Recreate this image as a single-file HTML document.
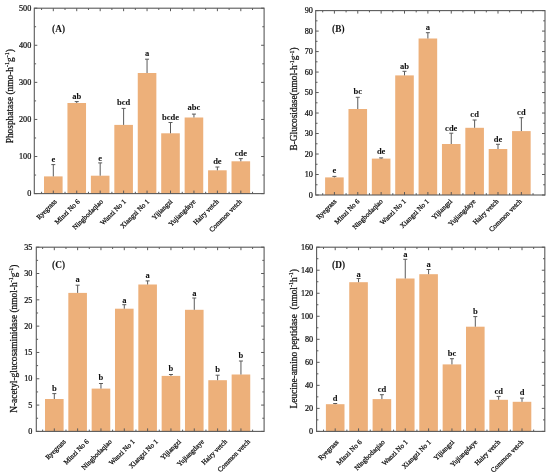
<!DOCTYPE html>
<html><head><meta charset="utf-8"><style>
html,body{margin:0;padding:0;background:#fff;}
svg{display:block;filter:blur(0.55px);}
text{font-family:"Liberation Serif", serif;fill:#111;stroke:#111;stroke-width:0.25px;}
text[font-weight=bold]{stroke-width:0.05px;}
</style></head><body>
<svg width="550" height="475" viewBox="0 0 550 475">
<rect width="550" height="475" fill="#fff"/>
<g><rect x="44" y="176.4" width="18.6" height="17.2" fill="#EDB07A"/><rect x="67.44" y="103" width="18.6" height="90.6" fill="#EDB07A"/><rect x="90.88" y="175.7" width="18.6" height="17.9" fill="#EDB07A"/><rect x="114.32" y="124.9" width="18.6" height="68.7" fill="#EDB07A"/><rect x="137.76" y="73" width="18.6" height="120.6" fill="#EDB07A"/><rect x="161.2" y="133.3" width="18.6" height="60.3" fill="#EDB07A"/><rect x="184.64" y="117.5" width="18.6" height="76.1" fill="#EDB07A"/><rect x="208.08" y="170.3" width="18.6" height="23.3" fill="#EDB07A"/><rect x="231.52" y="161.3" width="18.6" height="32.3" fill="#EDB07A"/><path d="M53.3 176.4V164.6M51.3 164.6H55.3" stroke="#5a5a5a" stroke-width="1" fill="none"/><path d="M76.74 103V101.6M74.74 101.6H78.74" stroke="#5a5a5a" stroke-width="1" fill="none"/><path d="M100.18 175.7V162.9M98.18 162.9H102.18" stroke="#5a5a5a" stroke-width="1" fill="none"/><path d="M123.62 124.9V108.4M121.62 108.4H125.62" stroke="#5a5a5a" stroke-width="1" fill="none"/><path d="M147.06 73V59.2M145.06 59.2H149.06" stroke="#5a5a5a" stroke-width="1" fill="none"/><path d="M170.5 133.3V122.5M168.5 122.5H172.5" stroke="#5a5a5a" stroke-width="1" fill="none"/><path d="M193.94 117.5V114.1M191.94 114.1H195.94" stroke="#5a5a5a" stroke-width="1" fill="none"/><path d="M217.38 170.3V167M215.38 167H219.38" stroke="#5a5a5a" stroke-width="1" fill="none"/><path d="M240.82 161.3V158.6M238.82 158.6H242.82" stroke="#5a5a5a" stroke-width="1" fill="none"/><text x="53.3" y="161.5" text-anchor="middle" font-weight="bold" font-size="8.5">e</text><text x="76.74" y="98.5" text-anchor="middle" font-weight="bold" font-size="8.5">ab</text><text x="100.18" y="160.5" text-anchor="middle" font-weight="bold" font-size="8.5">e</text><text x="123.62" y="105.2" text-anchor="middle" font-weight="bold" font-size="8.5">bcd</text><text x="147.06" y="56.3" text-anchor="middle" font-weight="bold" font-size="8.5">a</text><text x="170.5" y="120.3" text-anchor="middle" font-weight="bold" font-size="8.5">bcde</text><text x="193.94" y="110.2" text-anchor="middle" font-weight="bold" font-size="8.5">abc</text><text x="217.38" y="163.5" text-anchor="middle" font-weight="bold" font-size="8.5">de</text><text x="240.82" y="155.7" text-anchor="middle" font-weight="bold" font-size="8.5">cde</text><path d="M34.3 193.6h3M264.1 193.6h-3M34.3 175.06h1.8M264.1 175.06h-1.8M34.3 156.52h3M264.1 156.52h-3M34.3 137.98h1.8M264.1 137.98h-1.8M34.3 119.44h3M264.1 119.44h-3M34.3 100.9h1.8M264.1 100.9h-1.8M34.3 82.36h3M264.1 82.36h-3M34.3 63.82h1.8M264.1 63.82h-1.8M34.3 45.28h3M264.1 45.28h-3M34.3 26.74h1.8M264.1 26.74h-1.8M34.3 8.2h3M264.1 8.2h-3M41.58 193.6v-1.8M41.58 8.2v1.8M53.3 193.6v-3M53.3 8.2v3M65.02 193.6v-1.8M65.02 8.2v1.8M76.74 193.6v-3M76.74 8.2v3M88.46 193.6v-1.8M88.46 8.2v1.8M100.18 193.6v-3M100.18 8.2v3M111.9 193.6v-1.8M111.9 8.2v1.8M123.62 193.6v-3M123.62 8.2v3M135.34 193.6v-1.8M135.34 8.2v1.8M147.06 193.6v-3M147.06 8.2v3M158.78 193.6v-1.8M158.78 8.2v1.8M170.5 193.6v-3M170.5 8.2v3M182.22 193.6v-1.8M182.22 8.2v1.8M193.94 193.6v-3M193.94 8.2v3M205.66 193.6v-1.8M205.66 8.2v1.8M217.38 193.6v-3M217.38 8.2v3M229.1 193.6v-1.8M229.1 8.2v1.8M240.82 193.6v-3M240.82 8.2v3M252.54 193.6v-1.8M252.54 8.2v1.8" stroke="#5a5a5a" stroke-width="1" fill="none"/><rect x="34.3" y="8.2" width="229.8" height="185.4" stroke="#5a5a5a" stroke-width="1.1" fill="none"/><text transform="translate(31.3 196.3) scale(0.93 1)" text-anchor="end" font-size="8.8">0</text><text transform="translate(31.3 159.22) scale(0.93 1)" text-anchor="end" font-size="8.8">100</text><text transform="translate(31.3 122.14) scale(0.93 1)" text-anchor="end" font-size="8.8">200</text><text transform="translate(31.3 85.06) scale(0.93 1)" text-anchor="end" font-size="8.8">300</text><text transform="translate(31.3 47.98) scale(0.93 1)" text-anchor="end" font-size="8.8">400</text><text transform="translate(31.3 10.9) scale(0.93 1)" text-anchor="end" font-size="8.8">500</text><text transform="translate(57.1 202) rotate(-45)" text-anchor="end" font-size="7">Ryegrass</text><text transform="translate(80.25 202) rotate(-45)" text-anchor="end" font-size="7">Minzi No 6</text><text transform="translate(103.4 202) rotate(-45)" text-anchor="end" font-size="7">Ningbodaqiao</text><text transform="translate(126.55 202) rotate(-45)" text-anchor="end" font-size="7">Wanzi No 1</text><text transform="translate(149.7 202) rotate(-45)" text-anchor="end" font-size="7">Xiangzi No 1</text><text transform="translate(172.85 202) rotate(-45)" text-anchor="end" font-size="7">Yijiangzi</text><text transform="translate(196 202) rotate(-45)" text-anchor="end" font-size="7">Yujiangdaye</text><text transform="translate(219.15 202) rotate(-45)" text-anchor="end" font-size="7">Hairy vetch</text><text transform="translate(242.3 202) rotate(-45)" text-anchor="end" font-size="7">Common vetch</text><text transform="translate(52.1 31.5) scale(0.93 1)" font-weight="bold" font-size="10">(A)</text><text transform="translate(12.8 143.3) rotate(-90)" font-size="9.4">Phosphatase (nmo-h<tspan dy="-3.6" font-size="6">-1</tspan><tspan dy="3.6">g</tspan><tspan dy="-3.6" font-size="6">-1</tspan><tspan dy="3.6">)</tspan></text></g>
<g><rect x="325.1" y="177.4" width="18.6" height="17.6" fill="#EDB07A"/><rect x="348.47" y="109" width="18.6" height="86" fill="#EDB07A"/><rect x="371.84" y="158.6" width="18.6" height="36.4" fill="#EDB07A"/><rect x="395.21" y="75.4" width="18.6" height="119.6" fill="#EDB07A"/><rect x="418.58" y="38.5" width="18.6" height="156.5" fill="#EDB07A"/><rect x="441.95" y="144" width="18.6" height="51" fill="#EDB07A"/><rect x="465.32" y="127.8" width="18.6" height="67.2" fill="#EDB07A"/><rect x="488.69" y="149" width="18.6" height="46" fill="#EDB07A"/><rect x="512.06" y="131.1" width="18.6" height="63.9" fill="#EDB07A"/><path d="M334.4 177.4V176.4M332.4 176.4H336.4" stroke="#5a5a5a" stroke-width="1" fill="none"/><path d="M357.77 109V97.3M355.77 97.3H359.77" stroke="#5a5a5a" stroke-width="1" fill="none"/><path d="M381.14 158.6V157.9M379.14 157.9H383.14" stroke="#5a5a5a" stroke-width="1" fill="none"/><path d="M404.51 75.4V71.3M402.51 71.3H406.51" stroke="#5a5a5a" stroke-width="1" fill="none"/><path d="M427.88 38.5V32.7M425.88 32.7H429.88" stroke="#5a5a5a" stroke-width="1" fill="none"/><path d="M451.25 144V133.2M449.25 133.2H453.25" stroke="#5a5a5a" stroke-width="1" fill="none"/><path d="M474.62 127.8V120M472.62 120H476.62" stroke="#5a5a5a" stroke-width="1" fill="none"/><path d="M497.99 149V144.3M495.99 144.3H499.99" stroke="#5a5a5a" stroke-width="1" fill="none"/><path d="M521.36 131.1V117.7M519.36 117.7H523.36" stroke="#5a5a5a" stroke-width="1" fill="none"/><text x="334.4" y="172.5" text-anchor="middle" font-weight="bold" font-size="8.5">e</text><text x="357.77" y="94.1" text-anchor="middle" font-weight="bold" font-size="8.5">bc</text><text x="381.14" y="154" text-anchor="middle" font-weight="bold" font-size="8.5">de</text><text x="404.51" y="69.1" text-anchor="middle" font-weight="bold" font-size="8.5">ab</text><text x="427.88" y="29.8" text-anchor="middle" font-weight="bold" font-size="8.5">a</text><text x="451.25" y="130.5" text-anchor="middle" font-weight="bold" font-size="8.5">cde</text><text x="474.62" y="117.2" text-anchor="middle" font-weight="bold" font-size="8.5">cd</text><text x="497.99" y="141.8" text-anchor="middle" font-weight="bold" font-size="8.5">de</text><text x="521.36" y="114.8" text-anchor="middle" font-weight="bold" font-size="8.5">cd</text><path d="M315.7 195h3M545 195h-3M315.7 184.76h1.8M545 184.76h-1.8M315.7 174.51h3M545 174.51h-3M315.7 164.27h1.8M545 164.27h-1.8M315.7 154.02h3M545 154.02h-3M315.7 143.78h1.8M545 143.78h-1.8M315.7 133.53h3M545 133.53h-3M315.7 123.29h1.8M545 123.29h-1.8M315.7 113.04h3M545 113.04h-3M315.7 102.8h1.8M545 102.8h-1.8M315.7 92.56h3M545 92.56h-3M315.7 82.31h1.8M545 82.31h-1.8M315.7 72.07h3M545 72.07h-3M315.7 61.82h1.8M545 61.82h-1.8M315.7 51.58h3M545 51.58h-3M315.7 41.33h1.8M545 41.33h-1.8M315.7 31.09h3M545 31.09h-3M315.7 20.84h1.8M545 20.84h-1.8M315.7 10.6h3M545 10.6h-3M322.71 195v-1.8M322.71 10.6v1.8M334.4 195v-3M334.4 10.6v3M346.08 195v-1.8M346.08 10.6v1.8M357.77 195v-3M357.77 10.6v3M369.45 195v-1.8M369.45 10.6v1.8M381.14 195v-3M381.14 10.6v3M392.82 195v-1.8M392.82 10.6v1.8M404.51 195v-3M404.51 10.6v3M416.19 195v-1.8M416.19 10.6v1.8M427.88 195v-3M427.88 10.6v3M439.56 195v-1.8M439.56 10.6v1.8M451.25 195v-3M451.25 10.6v3M462.93 195v-1.8M462.93 10.6v1.8M474.62 195v-3M474.62 10.6v3M486.3 195v-1.8M486.3 10.6v1.8M497.99 195v-3M497.99 10.6v3M509.67 195v-1.8M509.67 10.6v1.8M521.36 195v-3M521.36 10.6v3M533.04 195v-1.8M533.04 10.6v1.8" stroke="#5a5a5a" stroke-width="1" fill="none"/><rect x="315.7" y="10.6" width="229.3" height="184.4" stroke="#5a5a5a" stroke-width="1.1" fill="none"/><text transform="translate(312.9 197.7) scale(0.93 1)" text-anchor="end" font-size="8.8">0</text><text transform="translate(312.9 177.21) scale(0.93 1)" text-anchor="end" font-size="8.8">10</text><text transform="translate(312.9 156.72) scale(0.93 1)" text-anchor="end" font-size="8.8">20</text><text transform="translate(312.9 136.23) scale(0.93 1)" text-anchor="end" font-size="8.8">30</text><text transform="translate(312.9 115.74) scale(0.93 1)" text-anchor="end" font-size="8.8">40</text><text transform="translate(312.9 95.26) scale(0.93 1)" text-anchor="end" font-size="8.8">50</text><text transform="translate(312.9 74.77) scale(0.93 1)" text-anchor="end" font-size="8.8">60</text><text transform="translate(312.9 54.28) scale(0.93 1)" text-anchor="end" font-size="8.8">70</text><text transform="translate(312.9 33.79) scale(0.93 1)" text-anchor="end" font-size="8.8">80</text><text transform="translate(312.9 13.3) scale(0.93 1)" text-anchor="end" font-size="8.8">90</text><text transform="translate(336.9 201.8) rotate(-45)" text-anchor="end" font-size="7">Ryegrass</text><text transform="translate(360.06 201.8) rotate(-45)" text-anchor="end" font-size="7">Minzi No 6</text><text transform="translate(383.22 201.8) rotate(-45)" text-anchor="end" font-size="7">Ningbodaqiao</text><text transform="translate(406.38 201.8) rotate(-45)" text-anchor="end" font-size="7">Wanzi No 1</text><text transform="translate(429.54 201.8) rotate(-45)" text-anchor="end" font-size="7">Xiangzi No 1</text><text transform="translate(452.7 201.8) rotate(-45)" text-anchor="end" font-size="7">Yijiangzi</text><text transform="translate(475.86 201.8) rotate(-45)" text-anchor="end" font-size="7">Yujiangdaye</text><text transform="translate(499.02 201.8) rotate(-45)" text-anchor="end" font-size="7">Hairy vetch</text><text transform="translate(522.18 201.8) rotate(-45)" text-anchor="end" font-size="7">Common vetch</text><text transform="translate(332.1 31.6) scale(0.93 1)" font-weight="bold" font-size="10">(B)</text><text transform="translate(297.1 150.6) rotate(-90)" font-size="9.4">B-Glucosidase(nmol-h<tspan dy="-3.6" font-size="6">-1</tspan><tspan dy="3.6">g</tspan><tspan dy="-3.6" font-size="6">-1</tspan><tspan dy="3.6">)</tspan></text></g>
<g><rect x="45" y="399" width="18.6" height="32.4" fill="#EDB07A"/><rect x="68.33" y="292.9" width="18.6" height="138.5" fill="#EDB07A"/><rect x="91.66" y="388.6" width="18.6" height="42.8" fill="#EDB07A"/><rect x="114.99" y="308.7" width="18.6" height="122.7" fill="#EDB07A"/><rect x="138.32" y="284.5" width="18.6" height="146.9" fill="#EDB07A"/><rect x="161.65" y="375.9" width="18.6" height="55.5" fill="#EDB07A"/><rect x="184.98" y="309.8" width="18.6" height="121.6" fill="#EDB07A"/><rect x="208.31" y="380.2" width="18.6" height="51.2" fill="#EDB07A"/><rect x="231.64" y="374.5" width="18.6" height="56.9" fill="#EDB07A"/><path d="M54.3 399V393.6M52.3 393.6H56.3" stroke="#5a5a5a" stroke-width="1" fill="none"/><path d="M77.63 292.9V285.2M75.63 285.2H79.63" stroke="#5a5a5a" stroke-width="1" fill="none"/><path d="M100.96 388.6V383.5M98.96 383.5H102.96" stroke="#5a5a5a" stroke-width="1" fill="none"/><path d="M124.29 308.7V304.7M122.29 304.7H126.29" stroke="#5a5a5a" stroke-width="1" fill="none"/><path d="M147.62 284.5V280.9M145.62 280.9H149.62" stroke="#5a5a5a" stroke-width="1" fill="none"/><path d="M170.95 375.9V374.5M168.95 374.5H172.95" stroke="#5a5a5a" stroke-width="1" fill="none"/><path d="M194.28 309.8V298M192.28 298H196.28" stroke="#5a5a5a" stroke-width="1" fill="none"/><path d="M217.61 380.2V375.2M215.61 375.2H219.61" stroke="#5a5a5a" stroke-width="1" fill="none"/><path d="M240.94 374.5V361M238.94 361H242.94" stroke="#5a5a5a" stroke-width="1" fill="none"/><text x="54.3" y="390.8" text-anchor="middle" font-weight="bold" font-size="8.5">b</text><text x="77.63" y="282" text-anchor="middle" font-weight="bold" font-size="8.5">a</text><text x="100.96" y="380" text-anchor="middle" font-weight="bold" font-size="8.5">b</text><text x="124.29" y="303.2" text-anchor="middle" font-weight="bold" font-size="8.5">a</text><text x="147.62" y="278" text-anchor="middle" font-weight="bold" font-size="8.5">a</text><text x="170.95" y="371.3" text-anchor="middle" font-weight="bold" font-size="8.5">b</text><text x="194.28" y="295.5" text-anchor="middle" font-weight="bold" font-size="8.5">a</text><text x="217.61" y="372.3" text-anchor="middle" font-weight="bold" font-size="8.5">b</text><text x="240.94" y="357.8" text-anchor="middle" font-weight="bold" font-size="8.5">b</text><path d="M36.3 431.4h3M264.1 431.4h-3M36.3 418.24h1.8M264.1 418.24h-1.8M36.3 405.09h3M264.1 405.09h-3M36.3 391.93h1.8M264.1 391.93h-1.8M36.3 378.77h3M264.1 378.77h-3M36.3 365.61h1.8M264.1 365.61h-1.8M36.3 352.46h3M264.1 352.46h-3M36.3 339.3h1.8M264.1 339.3h-1.8M36.3 326.14h3M264.1 326.14h-3M36.3 312.99h1.8M264.1 312.99h-1.8M36.3 299.83h3M264.1 299.83h-3M36.3 286.67h1.8M264.1 286.67h-1.8M36.3 273.51h3M264.1 273.51h-3M36.3 260.36h1.8M264.1 260.36h-1.8M36.3 247.2h3M264.1 247.2h-3M42.63 431.4v-1.8M42.63 247.2v1.8M54.3 431.4v-3M54.3 247.2v3M65.97 431.4v-1.8M65.97 247.2v1.8M77.63 431.4v-3M77.63 247.2v3M89.29 431.4v-1.8M89.29 247.2v1.8M100.96 431.4v-3M100.96 247.2v3M112.62 431.4v-1.8M112.62 247.2v1.8M124.29 431.4v-3M124.29 247.2v3M135.95 431.4v-1.8M135.95 247.2v1.8M147.62 431.4v-3M147.62 247.2v3M159.28 431.4v-1.8M159.28 247.2v1.8M170.95 431.4v-3M170.95 247.2v3M182.62 431.4v-1.8M182.62 247.2v1.8M194.28 431.4v-3M194.28 247.2v3M205.94 431.4v-1.8M205.94 247.2v1.8M217.61 431.4v-3M217.61 247.2v3M229.27 431.4v-1.8M229.27 247.2v1.8M240.94 431.4v-3M240.94 247.2v3M252.6 431.4v-1.8M252.6 247.2v1.8" stroke="#5a5a5a" stroke-width="1" fill="none"/><rect x="36.3" y="247.2" width="227.8" height="184.2" stroke="#5a5a5a" stroke-width="1.1" fill="none"/><text transform="translate(32.4 434.1) scale(0.93 1)" text-anchor="end" font-size="8.8">0</text><text transform="translate(32.4 407.79) scale(0.93 1)" text-anchor="end" font-size="8.8">5</text><text transform="translate(32.4 381.47) scale(0.93 1)" text-anchor="end" font-size="8.8">10</text><text transform="translate(32.4 355.16) scale(0.93 1)" text-anchor="end" font-size="8.8">15</text><text transform="translate(32.4 328.84) scale(0.93 1)" text-anchor="end" font-size="8.8">20</text><text transform="translate(32.4 302.53) scale(0.93 1)" text-anchor="end" font-size="8.8">25</text><text transform="translate(32.4 276.21) scale(0.93 1)" text-anchor="end" font-size="8.8">30</text><text transform="translate(32.4 249.9) scale(0.93 1)" text-anchor="end" font-size="8.8">35</text><text transform="translate(66.2 442.1) rotate(-45)" text-anchor="end" font-size="7">Ryegrass</text><text transform="translate(89.24 442.1) rotate(-45)" text-anchor="end" font-size="7">Minzi No 6</text><text transform="translate(112.28 442.1) rotate(-45)" text-anchor="end" font-size="7">Ningbodaqiao</text><text transform="translate(135.32 442.1) rotate(-45)" text-anchor="end" font-size="7">Wanzi No 1</text><text transform="translate(158.36 442.1) rotate(-45)" text-anchor="end" font-size="7">Xiangzi No 1</text><text transform="translate(181.4 442.1) rotate(-45)" text-anchor="end" font-size="7">Yijiangzi</text><text transform="translate(204.44 442.1) rotate(-45)" text-anchor="end" font-size="7">Yujiangdaye</text><text transform="translate(227.48 442.1) rotate(-45)" text-anchor="end" font-size="7">Hairy vetch</text><text transform="translate(250.52 442.1) rotate(-45)" text-anchor="end" font-size="7">Common vetch</text><text transform="translate(52.1 268) scale(0.93 1)" font-weight="bold" font-size="10">(C)</text><text transform="translate(17 412.8) rotate(-90)" font-size="9.4">N-acetyl-glucosaminidase (nmol-h<tspan dy="-3.6" font-size="6">-1</tspan><tspan dy="3.6">g</tspan><tspan dy="-3.6" font-size="6">-1</tspan><tspan dy="3.6">)</tspan></text></g>
<g><rect x="325.9" y="404.2" width="18.6" height="27.2" fill="#EDB07A"/><rect x="349.25" y="282.2" width="18.6" height="149.2" fill="#EDB07A"/><rect x="372.6" y="399.1" width="18.6" height="32.3" fill="#EDB07A"/><rect x="395.95" y="278.5" width="18.6" height="152.9" fill="#EDB07A"/><rect x="419.3" y="274.2" width="18.6" height="157.2" fill="#EDB07A"/><rect x="442.65" y="364.4" width="18.6" height="67" fill="#EDB07A"/><rect x="466" y="326.7" width="18.6" height="104.7" fill="#EDB07A"/><rect x="489.35" y="399.8" width="18.6" height="31.6" fill="#EDB07A"/><rect x="512.7" y="401.8" width="18.6" height="29.6" fill="#EDB07A"/><path d="M335.2 404.2V403.5M333.2 403.5H337.2" stroke="#5a5a5a" stroke-width="1" fill="none"/><path d="M358.55 282.2V278.5M356.55 278.5H360.55" stroke="#5a5a5a" stroke-width="1" fill="none"/><path d="M381.9 399.1V394.7M379.9 394.7H383.9" stroke="#5a5a5a" stroke-width="1" fill="none"/><path d="M405.25 278.5V259.3M403.25 259.3H407.25" stroke="#5a5a5a" stroke-width="1" fill="none"/><path d="M428.6 274.2V269.5M426.6 269.5H430.6" stroke="#5a5a5a" stroke-width="1" fill="none"/><path d="M451.95 364.4V358.7M449.95 358.7H453.95" stroke="#5a5a5a" stroke-width="1" fill="none"/><path d="M475.3 326.7V316.6M473.3 316.6H477.3" stroke="#5a5a5a" stroke-width="1" fill="none"/><path d="M498.65 399.8V396.4M496.65 396.4H500.65" stroke="#5a5a5a" stroke-width="1" fill="none"/><path d="M522 401.8V398.1M520 398.1H524" stroke="#5a5a5a" stroke-width="1" fill="none"/><text x="335.2" y="401" text-anchor="middle" font-weight="bold" font-size="8.5">d</text><text x="358.55" y="277" text-anchor="middle" font-weight="bold" font-size="8.5">a</text><text x="381.9" y="391.5" text-anchor="middle" font-weight="bold" font-size="8.5">cd</text><text x="405.25" y="257" text-anchor="middle" font-weight="bold" font-size="8.5">a</text><text x="428.6" y="266.8" text-anchor="middle" font-weight="bold" font-size="8.5">a</text><text x="451.95" y="356.2" text-anchor="middle" font-weight="bold" font-size="8.5">bc</text><text x="475.3" y="314.4" text-anchor="middle" font-weight="bold" font-size="8.5">b</text><text x="498.65" y="393.5" text-anchor="middle" font-weight="bold" font-size="8.5">cd</text><text x="522" y="395.2" text-anchor="middle" font-weight="bold" font-size="8.5">d</text><path d="M316.6 431.4h3M544.8 431.4h-3M316.6 419.89h1.8M544.8 419.89h-1.8M316.6 408.38h3M544.8 408.38h-3M316.6 396.86h1.8M544.8 396.86h-1.8M316.6 385.35h3M544.8 385.35h-3M316.6 373.84h1.8M544.8 373.84h-1.8M316.6 362.32h3M544.8 362.32h-3M316.6 350.81h1.8M544.8 350.81h-1.8M316.6 339.3h3M544.8 339.3h-3M316.6 327.79h1.8M544.8 327.79h-1.8M316.6 316.27h3M544.8 316.27h-3M316.6 304.76h1.8M544.8 304.76h-1.8M316.6 293.25h3M544.8 293.25h-3M316.6 281.74h1.8M544.8 281.74h-1.8M316.6 270.23h3M544.8 270.23h-3M316.6 258.71h1.8M544.8 258.71h-1.8M316.6 247.2h3M544.8 247.2h-3M323.52 431.4v-1.8M323.52 247.2v1.8M335.2 431.4v-3M335.2 247.2v3M346.88 431.4v-1.8M346.88 247.2v1.8M358.55 431.4v-3M358.55 247.2v3M370.23 431.4v-1.8M370.23 247.2v1.8M381.9 431.4v-3M381.9 247.2v3M393.57 431.4v-1.8M393.57 247.2v1.8M405.25 431.4v-3M405.25 247.2v3M416.93 431.4v-1.8M416.93 247.2v1.8M428.6 431.4v-3M428.6 247.2v3M440.27 431.4v-1.8M440.27 247.2v1.8M451.95 431.4v-3M451.95 247.2v3M463.62 431.4v-1.8M463.62 247.2v1.8M475.3 431.4v-3M475.3 247.2v3M486.98 431.4v-1.8M486.98 247.2v1.8M498.65 431.4v-3M498.65 247.2v3M510.32 431.4v-1.8M510.32 247.2v1.8M522 431.4v-3M522 247.2v3M533.67 431.4v-1.8M533.67 247.2v1.8" stroke="#5a5a5a" stroke-width="1" fill="none"/><rect x="316.6" y="247.2" width="228.2" height="184.2" stroke="#5a5a5a" stroke-width="1.1" fill="none"/><text transform="translate(313.2 434.1) scale(0.93 1)" text-anchor="end" font-size="8.8">0</text><text transform="translate(313.2 411.07) scale(0.93 1)" text-anchor="end" font-size="8.8">20</text><text transform="translate(313.2 388.05) scale(0.93 1)" text-anchor="end" font-size="8.8">40</text><text transform="translate(313.2 365.02) scale(0.93 1)" text-anchor="end" font-size="8.8">60</text><text transform="translate(313.2 342) scale(0.93 1)" text-anchor="end" font-size="8.8">80</text><text transform="translate(313.2 318.97) scale(0.93 1)" text-anchor="end" font-size="8.8">100</text><text transform="translate(313.2 295.95) scale(0.93 1)" text-anchor="end" font-size="8.8">120</text><text transform="translate(313.2 272.93) scale(0.93 1)" text-anchor="end" font-size="8.8">140</text><text transform="translate(313.2 249.9) scale(0.93 1)" text-anchor="end" font-size="8.8">160</text><text transform="translate(339 442.6) rotate(-45)" text-anchor="end" font-size="7">Ryegrass</text><text transform="translate(362.11 442.6) rotate(-45)" text-anchor="end" font-size="7">Minzi No 6</text><text transform="translate(385.22 442.6) rotate(-45)" text-anchor="end" font-size="7">Ningbodaqiao</text><text transform="translate(408.33 442.6) rotate(-45)" text-anchor="end" font-size="7">Wanzi No 1</text><text transform="translate(431.44 442.6) rotate(-45)" text-anchor="end" font-size="7">Xiangzi No 1</text><text transform="translate(454.55 442.6) rotate(-45)" text-anchor="end" font-size="7">Yijiangzi</text><text transform="translate(477.66 442.6) rotate(-45)" text-anchor="end" font-size="7">Yujiangdaye</text><text transform="translate(500.77 442.6) rotate(-45)" text-anchor="end" font-size="7">Hairy vetch</text><text transform="translate(523.88 442.6) rotate(-45)" text-anchor="end" font-size="7">Common vetch</text><text transform="translate(332.1 268) scale(0.93 1)" font-weight="bold" font-size="10">(D)</text><text transform="translate(296.9 408.6) rotate(-90)" font-size="9.4">Leucine-amino peptidase  (nmol<tspan dy="-3.6" font-size="6">-1</tspan><tspan dy="3.6">h</tspan><tspan dy="-3.6" font-size="6">-1</tspan><tspan dy="3.6">)</tspan></text></g>
</svg>
</body></html>
